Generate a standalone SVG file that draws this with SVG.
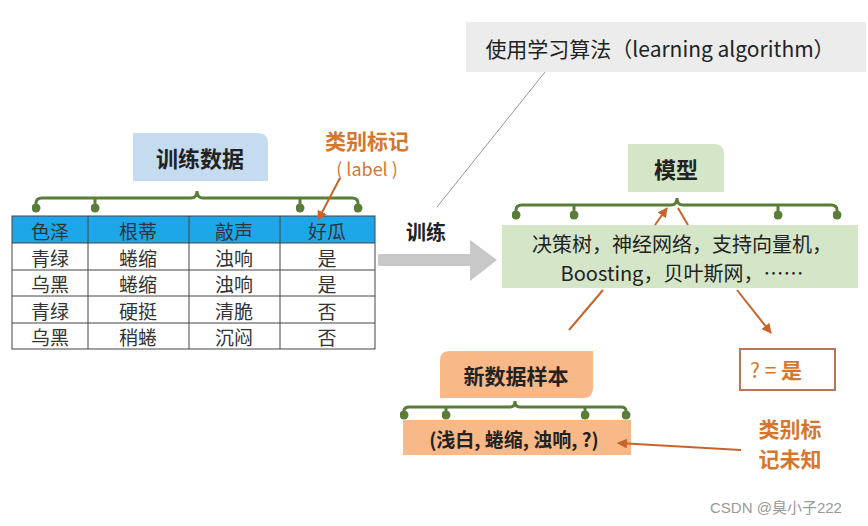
<svg xmlns="http://www.w3.org/2000/svg" width="868" height="526" viewBox="0 0 868 526">
<defs>
<style>
text{font-family:"Noto Sans CJK SC","Noto Sans",sans-serif;text-anchor:middle;dominant-baseline:central}
.b{font-weight:bold;fill:#222}
.cell{font-size:19px;fill:#333}
.or{fill:#d4772c;font-weight:bold}
.brace{fill:none;stroke:#5a7d3a;stroke-width:3}
.oa{stroke:#c8642a;stroke-width:2;fill:none}
.grid{stroke:#444;stroke-width:1;fill:none}
</style>
<marker id="ah" viewBox="0 0 10 10" refX="9" refY="5" markerWidth="5" markerHeight="5" orient="auto"><path d="M0,0L10,5L0,10z" fill="#c8642a"/></marker>
<marker id="dot" viewBox="0 0 10 10" refX="5" refY="5" markerWidth="3" markerHeight="3"><circle cx="5" cy="5" r="5" fill="#5a7d3a"/></marker>
</defs>
<rect width="868" height="526" fill="#fff"/>

<g id="algo">
<rect x="466" y="22" width="400" height="50" fill="#ececec"/>
<text x="660" y="48" font-size="21" fill="#222">使用学习算法（learning algorithm）</text>
</g>

<g id="train-data">
<path d="M133,181V133H258Q268,133 268,143V181Z" fill="#c5dcf0"/>
<text x="200" y="157" font-size="22" class="b">训练数据</text>
</g>

<g id="label-note">
<text x="367" y="140" font-size="21" class="or">类别标记</text>
<text x="367" y="168" font-size="18" fill="#d4772c">( label )</text>
</g>

<g id="table">
<rect x="12" y="216" width="363" height="27" fill="#1ea7e8"/>
<rect x="12" y="216" width="363" height="133" class="grid"/>
<path class="grid" d="M12,243H375M12,270H375M12,296H375M12,323H375M88,216V349M189,216V349M280,216V349"/>
<g class="cell">
<text x="50" y="230">色泽</text><text x="138" y="230">根蒂</text><text x="234" y="230">敲声</text><text x="327" y="230">好瓜</text>
<text x="50" y="257">青绿</text><text x="138" y="257">蜷缩</text><text x="234" y="257">浊响</text><text x="327" y="257">是</text>
<text x="50" y="283">乌黑</text><text x="138" y="283">蜷缩</text><text x="234" y="283">浊响</text><text x="327" y="283">是</text>
<text x="50" y="310">青绿</text><text x="138" y="310">硬挺</text><text x="234" y="310">清脆</text><text x="327" y="310">否</text>
<text x="50" y="336">乌黑</text><text x="138" y="336">稍蜷</text><text x="234" y="336">沉闷</text><text x="327" y="336">否</text>
</g>
</g>

<g id="train-label"><text x="426" y="231" font-size="20" class="b">训练</text></g>

<g id="model">
<path d="M628,192V144H714Q724,144 724,154V192Z" fill="#d5e5c8"/>
<text x="676" y="168" font-size="22" class="b">模型</text>
</g>

<g id="models-list">
<rect x="502" y="225" width="356" height="63" fill="#d5e5c8"/>
<text x="682" y="243" font-size="20" fill="#222">决策树，神经网络，支持向量机，</text>
<text x="682" y="272" font-size="20" fill="#222">Boosting，贝叶斯网，……</text>
</g>

<g id="result">
<rect x="740" y="349" width="95" height="41" fill="#fff" stroke="#b8755a" stroke-width="2"/>
<text x="776" y="369" font-size="21" fill="#d4772c">? = <tspan font-weight="bold">是</tspan></text>
</g>

<g id="new-sample">
<path d="M440,398V360Q440,351 450,351H593V388Q593,398 583,398Z" fill="#f8b887"/>
<text x="516" y="375" font-size="21" class="b">新数据样本</text>
</g>

<g id="sample">
<rect x="403" y="420" width="228" height="35" fill="#f8b887"/>
<text x="514" y="438" font-size="19" font-weight="600" fill="#222">(浅白, 蜷缩, 浊响, ?)</text>
</g>

<g id="unknown-note">
<text x="790" y="428" font-size="21" class="or">类别标</text>
<text x="790" y="458" font-size="21" class="or">记未知</text>
</g>

<g id="watermark"><text x="776" y="507" font-size="15" fill="#999" style="font-family:'Liberation Sans','Noto Sans CJK SC',sans-serif">CSDN @臭小子222</text></g>

<g id="connectors">
<line x1="545" y1="72" x2="437" y2="207" stroke="#8a96b0" stroke-width="1"/>
<path class="brace" marker-start="url(#dot)" marker-end="url(#dot)" d="M36,208V203Q36,198 42,198H191Q197,198 197,191Q197,198 203,198H352Q358,198 358,203V208"/>
<path class="brace" marker-end="url(#dot)" d="M95,198V208"/>
<path class="brace" marker-end="url(#dot)" d="M300,198V208"/>
<path class="brace" marker-start="url(#dot)" marker-end="url(#dot)" d="M516,215V210Q516,205 522,205H671Q677,205 677,198Q677,205 683,205H831Q837,205 837,210V215"/>
<path class="brace" marker-end="url(#dot)" d="M574,205V215"/>
<path class="brace" marker-end="url(#dot)" d="M778,205V215"/>
<path class="brace" stroke-width="2" marker-start="url(#dot)" marker-end="url(#dot)" d="M404,415V411Q404,407 409,407H510Q515,407 515,401Q515,407 520,407H621Q626,407 626,411V415"/>
<path class="brace" stroke-width="2" marker-end="url(#dot)" d="M446,407V415"/>
<path class="brace" stroke-width="2" marker-end="url(#dot)" d="M585,407V415"/>
<line class="oa" x1="340" y1="178" x2="318" y2="220" marker-end="url(#ah)"/>
<rect x="378" y="254" width="92" height="12" fill="#c8c8c8"/>
<path d="M470,240L497,260L470,281Z" fill="#c8c8c8"/>
<line class="oa" x1="655" y1="225" x2="667" y2="208" marker-end="url(#ah)"/>
<line class="oa" x1="678" y1="208" x2="688" y2="225"/>
<line class="oa" x1="603" y1="290" x2="569" y2="330"/>
<line class="oa" x1="737" y1="290" x2="771" y2="333" marker-end="url(#ah)"/>
<line class="oa" x1="741" y1="450" x2="618" y2="443" marker-end="url(#ah)"/>
</g>
</svg>
